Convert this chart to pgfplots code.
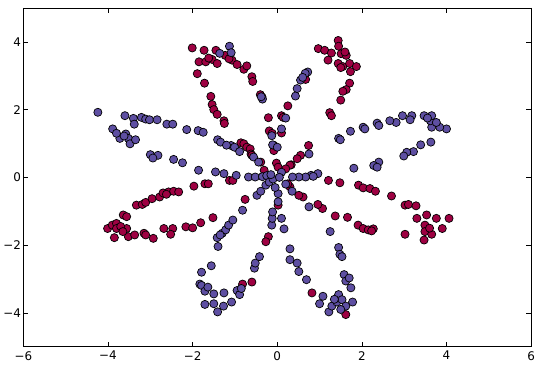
\documentclass[border=0pt]{standalone}
\usepackage{fontspec}
\setmainfont{DejaVu Sans}
\usepackage{pgfplots}
\pgfplotsset{compat=1.18}
\definecolor{cred}{HTML}{9E0142}
\definecolor{cblue}{HTML}{5E4FA2}
\begin{document}
\begin{tikzpicture}
\begin{axis}[
  scale only axis, width=511pt, height=341pt,
  xmin=-6, xmax=6, ymin=-5, ymax=5,
  xtick={-6,-4,-2,0,2,4,6}, ytick={-4,-2,0,2,4},
  xticklabels={−6,−4,−2,0,2,4,6}, yticklabels={−4,−2,0,2,4},
  tick align=inside, tick pos=both, major tick length=5pt,
  tick style={black, line width=0.5pt},
  axis line style={line width=0.8pt},
  tick label style={font=\fontsize{12}{14}\selectfont, text=black},
  yticklabel style={xshift=1pt},
  xticklabel style={yshift=-1pt},
  clip=false,
]
\addplot[only marks, mark=*, mark size=4.1pt, mark options={fill=cred, draw=black, line width=0.7pt}] coordinates {
(-2.01,3.82) (-1.73,3.75) (-1.45,3.75) (-1.85,3.41) (-1.69,3.41) (-1.54,3.48) (-1.42,3.36) (-1.62,3.52) (-1.23,3.60) (-1.07,3.46) (-1.14,3.50) (-0.95,3.33) (-0.79,3.19) (-0.72,3.29) (-1.89,3.06) (-1.72,2.78) (-1.57,2.39) (-1.54,2.15) (-1.50,2.00) (-1.42,1.86) (-1.26,1.67) (-1.25,1.59) (-0.60,2.97) (-0.58,2.83) (-0.40,2.44) (-0.36,2.37) (-0.21,1.76) (-0.19,1.37) (-0.08,0.79) (-0.86,1.02) (-0.79,0.99) (-0.72,0.89) (-0.64,0.84) (-0.62,0.69) (-0.60,0.65) (-0.39,0.45) (-0.31,0.21) (-0.02,0.42) (0.02,0.30) (-0.12,1.30) (-0.09,0.95)
(1.44,4.04) (0.97,3.80) (1.12,3.75) (1.28,3.67) (1.20,3.46) (1.51,3.65) (1.63,3.60) (1.44,3.36) (1.55,3.27) (1.71,3.36) (1.87,3.27) (1.73,3.12) (1.45,3.87) (1.60,3.70) (1.50,3.24) (1.71,2.78) (1.63,2.59) (1.55,2.54) (1.50,2.28) (1.24,1.91) (1.28,1.82) (0.67,2.89) (0.25,2.11) (0.10,1.82) (0.14,1.77) (0.10,1.31) (0.74,0.94) (0.55,0.65) (0.47,0.55) (0.33,0.37) (0.30,0.36) (0.20,0.25)
(-4.01,-1.51) (-3.85,-1.78) (-3.90,-1.41) (-3.80,-1.36) (-3.64,-1.11) (-3.56,-1.16) (-3.80,-1.51) (-3.56,-1.51) (-3.52,-1.75) (-3.37,-1.70) (-3.15,-1.65) (-3.11,-1.70) (-2.93,-1.80) (-3.33,-0.82) (-3.19,-0.80) (-3.11,-0.74) (-2.96,-0.63) (-2.78,-0.58) (-2.70,-0.46) (-2.57,-0.43) (-2.45,-0.41) (-2.33,-0.43) (-2.62,-0.50) (-2.68,-1.51) (-2.47,-1.51) (-2.52,-1.68) (-2.16,-1.46) (-2.00,-1.49) (-1.81,-1.34) (-1.52,-1.19) (-1.97,-0.26) (-1.71,-0.19) (-1.63,-0.19) (-1.13,-0.09) (-1.05,-0.09) (-0.76,-0.65) (-0.21,-1.75) (-0.27,-1.90) (0.02,-0.82) (-3.70,-1.45) (-3.65,-1.60)
(1.21,-0.09) (1.48,-0.16) (1.92,-0.23) (2.03,-0.31) (2.19,-0.33) (2.32,-0.41) (2.70,-0.55) (3.02,-0.82) (3.10,-0.80) (3.28,-0.84) (3.30,-1.21) (3.53,-1.11) (3.49,-1.41) (3.49,-1.60) (3.47,-1.85) (3.65,-1.68) (3.76,-1.21) (3.90,-1.51) (4.06,-1.21) (3.02,-1.68) (1.91,-1.41) (2.03,-1.51) (2.15,-1.55) (2.27,-1.52) (2.23,-1.58) (1.66,-1.18) (1.37,-1.14) (1.07,-0.92) (0.96,-0.80) (0.61,-0.58) (0.51,-0.53) (0.30,-0.28) (0.25,-0.19) (0.82,-3.41) (1.62,-4.05) (-0.60,-3.09) (-0.82,-3.15) (3.60,-1.50)
};
\addplot[only marks, mark=*, mark size=4.1pt, mark options={fill=cblue, draw=black, line width=0.7pt}] coordinates {
(-4.24,1.92) (-3.89,1.43) (-3.60,1.82) (-3.40,1.74) (-3.38,1.57) (-3.21,1.77) (-3.11,1.72) (-3.02,1.70) (-2.84,1.70) (-2.61,1.57) (-2.47,1.57) (-3.72,1.15) (-3.58,1.28) (-3.52,1.15) (-3.48,0.99) (-3.35,1.11) (-3.62,1.22) (-3.80,1.30) (-3.00,0.67) (-2.82,0.65) (-2.94,0.57) (-2.45,0.53) (-2.24,0.43) (-2.14,1.41) (-1.87,1.38) (-1.75,1.33) (-1.86,0.21) (-1.46,0.16) (-1.26,0.11) (-0.97,0.06) (-1.41,1.11) (-1.34,1.04) (-1.09,0.94) (-1.01,0.89) (-0.89,0.76) (-1.20,0.95) (-0.68,0.01) (-0.52,0.01) (-0.56,0.60) (-0.44,0.45) (-0.35,0.02) (-0.25,0.05)
(4.00,1.43) (3.84,1.48) (3.65,1.48) (3.62,1.67) (3.47,1.82) (3.65,1.82) (3.76,1.62) (3.55,1.75) (3.18,1.82) (3.14,1.70) (2.96,1.82) (2.81,1.62) (2.66,1.67) (2.36,1.60) (2.40,1.53) (2.03,1.48) (2.07,1.43) (1.73,1.36) (1.45,1.15) (1.49,1.11) (3.63,1.04) (3.39,0.96) (3.22,0.76) (3.06,0.74) (2.99,0.63) (2.40,0.45) (2.28,0.35) (2.36,0.30) (1.81,0.27) (0.96,0.11) (0.80,0.06) (0.67,0.01) (0.51,0.01) (0.75,0.69) (0.36,0.01) (0.85,0.03)
(0.72,3.11) (0.66,3.07) (0.55,2.87) (0.47,2.62) (0.43,2.40) (0.20,1.75) (0.10,1.43) (-0.13,1.23) (-0.11,0.96) (0.00,0.89) (-0.35,2.31) (-0.38,2.38) (-1.13,3.87) (-1.09,3.68) (-1.36,3.66) (0.60,2.95)
(-1.79,-2.80) (-1.56,-2.61) (-1.83,-3.15) (-1.79,-3.19) (-1.71,-3.36) (-1.64,-3.24) (-1.50,-3.44) (-1.26,-3.41) (-1.71,-3.75) (-1.50,-3.73) (-1.41,-3.97) (-1.27,-3.80) (-1.08,-3.68) (-0.95,-3.34) (-0.89,-3.46) (-0.85,-3.28) (-0.54,-2.68) (-0.52,-2.53) (-0.42,-2.34) (-1.42,-1.78) (-1.40,-2.04) (-1.30,-1.65) (-1.22,-1.55) (-1.15,-1.41) (-1.05,-1.26) (-1.35,-1.70) (-0.82,-0.97) (-0.48,-0.53) (-0.39,-0.41) (-0.27,-0.23) (-0.19,-0.14) (-0.13,-1.41) (-0.12,-1.21) (-0.11,-1.02) (0.02,-0.72) (0.02,-0.48) (0.10,-1.21) (0.16,-1.52) (-0.05,-0.30) (-0.10,-0.05)
(0.30,-2.11) (0.30,-2.43) (0.47,-2.53) (0.51,-2.78) (0.69,-3.02) (1.25,-1.60) (1.45,-2.07) (1.48,-2.27) (1.53,-2.34) (1.58,-2.87) (1.62,-3.06) (1.70,-2.97) (1.74,-3.26) (1.78,-3.68) (1.00,-3.73) (1.08,-3.51) (1.22,-3.97) (1.29,-3.80) (1.41,-3.68) (1.45,-3.46) (1.53,-3.61) (1.62,-3.80) (1.50,-3.90) (1.35,-3.60) (0.75,-0.87) (0.35,-0.41) (0.20,-0.20) (0.10,0.15) (0.05,0.00) (-0.15,0.08)
};
\end{axis}
\path (current axis.south west) ++(-20pt,-37pt) (current axis.north east) ++(18pt,8pt);
\end{tikzpicture}
\end{document}
